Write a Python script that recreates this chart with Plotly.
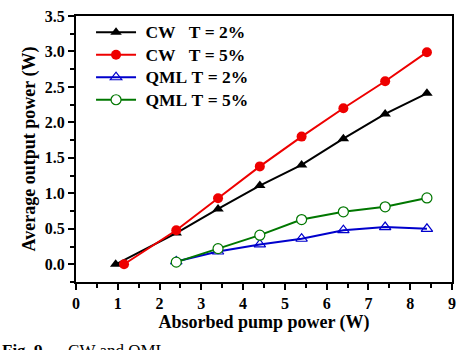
import plotly.graph_objects as go

x_cw2 = [0.95, 2.4, 3.4, 4.4, 5.4, 6.4, 7.4, 8.4]
y_cw2 = [0.0, 0.44, 0.78, 1.11, 1.40, 1.77, 2.12, 2.41]
x_cw5 = [1.15, 2.4, 3.4, 4.4, 5.4, 6.4, 7.4, 8.4]
y_cw5 = [0.0, 0.48, 0.93, 1.38, 1.80, 2.20, 2.58, 2.99]
x_qml = [2.4, 3.4, 4.4, 5.4, 6.4, 7.4, 8.4]
y_qml2 = [0.04, 0.18, 0.28, 0.36, 0.48, 0.525, 0.50]
y_qml5 = [0.03, 0.22, 0.41, 0.63, 0.74, 0.81, 0.935]

names = ["CW   T = 2%", "CW   T = 5%", "QML T = 2%", "QML T = 5%"]
x_ticks = list(range(0, 10))
y_ticks = [0.0, 0.5, 1.0, 1.5, 2.0, 2.5, 3.0, 3.5]

font_family = "Liberation Serif"


def legend_label(s):
    return '<span style="font-size:17.5px">\u00a0' + s.replace(" ", "\u00a0") + '</span>'


fig = go.Figure()
fig.add_trace(go.Scatter(x=x_cw2, y=y_cw2, name=legend_label(names[0]), mode="lines+markers",
                         line=dict(color="black", width=2),
                         marker=dict(symbol="triangle-up", size=10, color="black")))
fig.add_trace(go.Scatter(x=x_cw5, y=y_cw5, name=legend_label(names[1]), mode="lines+markers",
                         line=dict(color="#ee0000", width=2),
                         marker=dict(symbol="circle", size=10, color="#ee0000")))
fig.add_trace(go.Scatter(x=x_qml, y=y_qml2, name=legend_label(names[2]), mode="lines+markers",
                         line=dict(color="#0000cc", width=2),
                         marker=dict(symbol="triangle-up-open", size=10, color="#0000cc",
                                     line=dict(width=1.2))))
fig.add_trace(go.Scatter(x=x_qml, y=y_qml5, name=legend_label(names[3]), mode="lines+markers",
                         line=dict(color="#007700", width=2),
                         marker=dict(symbol="circle", size=10, color="white",
                                     line=dict(color="#007700", width=1.2))))

axis_common = dict(showline=True, linecolor="black", linewidth=2, mirror=True,
                   ticks="outside", ticklen=6, tickwidth=2, tickcolor="black",
                   showgrid=False, zeroline=False,
                   tickfont=dict(family=font_family, size=16, color="black", weight="bold"))

fig.update_xaxes(range=[0, 9], tickvals=x_ticks,
                 minor=dict(dtick=0.5, ticks="outside", ticklen=4, tickwidth=2, tickcolor="black"),
                 title=dict(text="<b>Absorbed pump power (W)</b>", standoff=4,
                            font=dict(family=font_family, size=18, color="black")),
                 **axis_common)
fig.update_yaxes(range=[-0.25, 3.5], tickvals=y_ticks, tickformat=".1f",
                 minor=dict(dtick=0.25, tick0=0, ticks="outside", ticklen=4, tickwidth=2, tickcolor="black"),
                 title=dict(text="<b>Average output power (W)</b>", standoff=4,
                            font=dict(family=font_family, size=18, color="black")),
                 **axis_common)

fig.update_layout(
    width=474, height=350,
    margin=dict(l=76, r=22, t=8, b=68),
    plot_bgcolor="white", paper_bgcolor="white",
    legend=dict(x=0.04, y=1.0, xanchor="left", yanchor="top",
                bgcolor="rgba(0,0,0,0)", borderwidth=0,
                font=dict(family=font_family, size=15, color="black", weight="bold"),
                itemwidth=40, tracegroupgap=0),
    showlegend=True,
)

fig.add_annotation(text="<b>Fig. 9</b>      CW and QML", xref="paper", yref="paper",
                   x=-76/376, y=(282-341)/274, xanchor="left", yanchor="top",
                   showarrow=False, font=dict(family=font_family, size=17, color="black"))

fig.write_html("out.html")
